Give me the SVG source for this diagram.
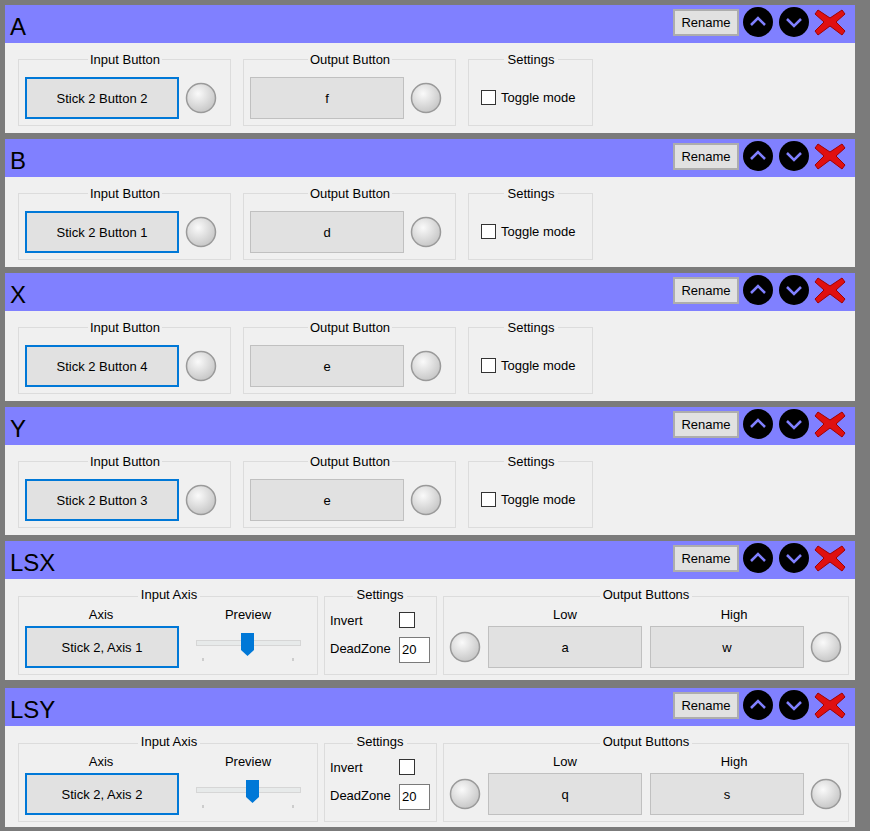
<svg xmlns="http://www.w3.org/2000/svg" width="870" height="831" viewBox="0 0 870 831">
<style>
text{font-family:"Liberation Sans",Arial,sans-serif;font-size:13px;fill:#000}
.t{font-size:24px}
.c{text-anchor:middle}
.hd{fill:#8080ff}
.bd{fill:#f0f0f0}
.gb{fill:none;stroke:#dcdcdc;stroke-width:1}
.btn{fill:#e1e1e1;stroke:#adadadad;stroke-width:1}
.sel{fill:#e1e1e1;stroke:#0078d7;stroke-width:2}
.ren{fill:#e1e1e1;stroke:#adadad;stroke-width:2}
.cb{fill:#fff;stroke:#333;stroke-width:1}
.lbl{fill:#f0f0f0}
</style>
<defs>
<radialGradient id="led" cx="0.4" cy="0.35" r="0.7">
<stop offset="0" stop-color="#fafafa"/><stop offset="1" stop-color="#c4c4c4"/>
</radialGradient>
<g id="led1"><circle r="14.5" fill="url(#led)" stroke="#9a9a9a" stroke-width="1.5"/></g>
<g id="hdr">
<rect x="5" y="0" width="850" height="38" class="hd"/>
<rect x="674" y="5" width="64" height="25" class="ren"/>
<text x="706" y="22" class="c">Rename</text>
<circle cx="758" cy="17" r="15" fill="#000"/>
<path d="M751,20 L758,13 L765,20" fill="none" stroke="#8080ff" stroke-width="2.5"/>
<circle cx="794" cy="17" r="15" fill="#000"/>
<path d="M787,14 L794,21 L801,14" fill="none" stroke="#8080ff" stroke-width="2.5"/>
<path d="M818,5 L830,13 L842,5 L845,9 L836,17 L845,26 L842,30 L830,21 L818,30 L815,26 L824,17 L815,9Z" fill="#e01010" stroke="#a00000" stroke-width="1"/>
</g>
<g id="btnpanel">
<rect x="5" y="38" width="850" height="90" class="bd"/>
<rect x="18.5" y="54.5" width="212" height="66" class="gb"/>
<rect x="88" y="50" width="74" height="10" class="lbl"/>
<text x="125" y="59" class="c">Input Button</text>
<use href="#led1" x="201" y="93"/>
<rect x="243.5" y="54.5" width="212" height="66" class="gb"/>
<rect x="308" y="50" width="84" height="10" class="lbl"/>
<text x="350" y="59" class="c">Output Button</text>
<rect x="250.5" y="72.5" width="153" height="41" class="btn" stroke="#adadad"/>
<use href="#led1" x="426" y="93"/>
<rect x="468.5" y="54.5" width="124" height="66" class="gb"/>
<rect x="504" y="50" width="54" height="10" class="lbl"/>
<text x="531" y="59" class="c">Settings</text>
<rect x="481.5" y="85.5" width="14" height="14" class="cb"/>
<text x="501" y="97">Toggle mode</text>
</g>
<g id="axpanel">
<rect x="5" y="38" width="850" height="101" class="bd"/>
<rect x="18.5" y="55.5" width="299" height="78" class="gb"/>
<rect x="138" y="50" width="62" height="10" class="lbl"/>
<text x="169" y="58" class="c">Input Axis</text>
<text x="101" y="78" class="c">Axis</text>
<text x="248" y="78" class="c">Preview</text>
<rect x="196.5" y="99.5" width="104" height="5" fill="#e7eaea" stroke="#d6d6d6"/>
<path d="M203,117v3M293,117v3" stroke="#aaa"/>
<rect x="324.5" y="55.5" width="112" height="78" class="gb"/>
<rect x="353" y="50" width="54" height="10" class="lbl"/>
<text x="380" y="58" class="c">Settings</text>
<text x="330" y="84">Invert</text>
<rect x="399.5" y="71.5" width="15" height="15" class="cb"/>
<text x="330" y="112">DeadZone</text>
<rect x="399.5" y="96.5" width="30" height="25" fill="#fff" stroke="#7a7a7a"/>
<text x="402" y="113">20</text>
<rect x="443.5" y="55.5" width="405" height="78" class="gb"/>
<rect x="600" y="50" width="92" height="10" class="lbl"/>
<text x="646" y="58" class="c">Output Buttons</text>
<text x="565" y="78" class="c">Low</text>
<text x="734" y="78" class="c">High</text>
<use href="#led1" x="465" y="106"/>
<rect x="488.5" y="85.5" width="153" height="41" class="btn" stroke="#adadad"/>
<rect x="650.5" y="85.5" width="153" height="41" class="btn" stroke="#adadad"/>
<use href="#led1" x="826" y="106"/>
</g>
</defs>
<rect width="870" height="831" fill="#7b7b7b"/>
<g id="nodeA" transform="translate(0,5)">
<use href="#hdr"/><use href="#btnpanel"/>
<text x="10" y="30" class="t">A</text>
<rect x="26" y="73" width="152" height="40" class="sel"/>
<text x="102" y="98" class="c">Stick 2 Button 2</text>
<text x="327" y="98" class="c">f</text>
</g>
<g id="nodeB" transform="translate(0,139)">
<use href="#hdr"/><use href="#btnpanel"/>
<text x="10" y="30" class="t">B</text>
<rect x="26" y="73" width="152" height="40" class="sel"/>
<text x="102" y="98" class="c">Stick 2 Button 1</text>
<text x="327" y="98" class="c">d</text>
</g>
<g id="nodeX" transform="translate(0,273)">
<use href="#hdr"/><use href="#btnpanel"/>
<text x="10" y="30" class="t">X</text>
<rect x="26" y="73" width="152" height="40" class="sel"/>
<text x="102" y="98" class="c">Stick 2 Button 4</text>
<text x="327" y="98" class="c">e</text>
</g>
<g id="nodeY" transform="translate(0,407)">
<use href="#hdr"/><use href="#btnpanel"/>
<text x="10" y="30" class="t">Y</text>
<rect x="26" y="73" width="152" height="40" class="sel"/>
<text x="102" y="98" class="c">Stick 2 Button 3</text>
<text x="327" y="98" class="c">e</text>
</g>
<g id="nodeLSX" transform="translate(0,541)">
<use href="#hdr"/><use href="#axpanel"/>
<text x="10" y="30" class="t">LSX</text>
<rect x="26" y="86" width="152" height="40" class="sel"/>
<text x="102" y="111" class="c">Stick 2, Axis 1</text>
<path d="M241,92h13v17l-6.5,6l-6.5,-6Z" fill="#0078d7"/>
<text x="565" y="111" class="c">a</text>
<text x="727" y="111" class="c">w</text>
</g>
<g id="nodeLSY" transform="translate(0,688)">
<use href="#hdr"/><use href="#axpanel"/>
<text x="10" y="30" class="t">LSY</text>
<rect x="26" y="86" width="152" height="40" class="sel"/>
<text x="102" y="111" class="c">Stick 2, Axis 2</text>
<path d="M246,92h13v17l-6.5,6l-6.5,-6Z" fill="#0078d7"/>
<text x="565" y="111" class="c">q</text>
<text x="727" y="111" class="c">s</text>
</g>
<g id="connectors"/>
</svg>
